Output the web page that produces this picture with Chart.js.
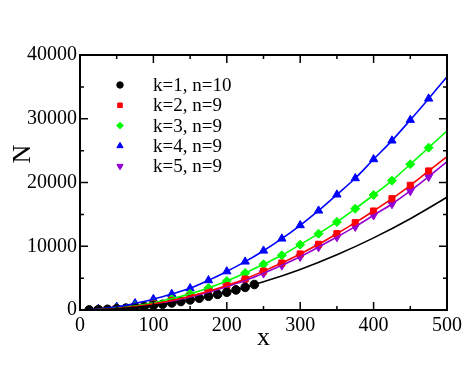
<!DOCTYPE html>
<html>
<head>
<meta charset="UTF-8">
<title>N vs x</title>
<script src="https://cdn.jsdelivr.net/npm/chart.js@4.4.0/dist/chart.umd.min.js"></script>
<style>
  html, body { margin: 0; padding: 0; background: #fff; }
  #wrap { width: 474px; height: 366px; position: relative; }
</style>
</head>
<body>
<div id="wrap"><canvas id="chart"></canvas></div>
<script>
// k=1, n=10 : markers every 12.5
const xK1 = [12.5, 25, 37.5, 50, 62.5, 75, 87.5, 100, 112.5, 125, 137.5, 150, 162.5, 175, 187.5, 200, 212.5, 225, 237.5];
const nK1 = [20, 60, 120, 200, 300, 420, 560, 720, 900, 1100, 1330, 1580, 1850, 2150, 2450, 2780, 3150, 3550, 4000];
// k=1 fitted curve
const xK1Fit = [0, 50, 100, 150, 200, 250, 300, 350, 400, 450, 500];
const nK1Fit = [0, 200, 720, 1580, 2780, 4420, 6360, 8660, 11310, 14320, 17680];

// k=2..5, n=9 : markers every 25
const xK = [25, 50, 75, 100, 125, 150, 175, 200, 225, 250, 275, 300, 325, 350, 375, 400, 425, 450, 475];
const nK2 = [60, 240, 540, 960, 1500, 2160, 2940, 3840, 4860, 6100, 7370, 8790, 10310, 11970, 13700, 15530, 17460, 19560, 21810];
const nK3 = [70, 280, 630, 1130, 1760, 2530, 3450, 4550, 5800, 7170, 8580, 10250, 11970, 13810, 15890, 18040, 20290, 22860, 25470];
const nK4 = [160, 500, 1050, 1700, 2500, 3400, 4650, 6050, 7580, 9300, 11190, 13290, 15580, 18100, 20660, 23640, 26570, 29810, 33150];
const nK5 = [55, 225, 510, 910, 1420, 2050, 2790, 3650, 4620, 5760, 7010, 8360, 9880, 11450, 13070, 14860, 16630, 18670, 20910];
// curve values at x = 500 for k=2..5
const nEnd = [24050, 28090, 36600, 23270];

const labels = ['k=1, n=10', 'k=2, n=9', 'k=3, n=9', 'k=4, n=9', 'k=5, n=9'];
const xTicks = [0, 100, 200, 300, 400, 500];
const yTicks = [0, 10000, 20000, 30000, 40000];

const colors = ['#000000', '#ff0000', '#00ff00', '#0000ff', '#9400d3'];
const styles = [
  { pointStyle: 'circle', radius: 4.3, rotation: 0 },
  { pointStyle: 'rect', radius: 4.3, rotation: 0 },
  { pointStyle: 'rectRot', radius: 4.5, rotation: 0 },
  { pointStyle: 'triangle', radius: 4.8, rotation: 0 },
  { pointStyle: 'triangle', radius: 4.8, rotation: 180 }
];

function pts(xs, ys) {
  return xs.map((x, i) => ({ x: x, y: ys[i] }));
}

const markerSets = [
  pts(xK1, nK1), pts(xK, nK2), pts(xK, nK3), pts(xK, nK4), pts(xK, nK5)
];
const curveSets = [
  pts(xK1Fit, nK1Fit),
  pts([0].concat(xK, [500]), [0].concat(nK2, [nEnd[0]])),
  pts([0].concat(xK, [500]), [0].concat(nK3, [nEnd[1]])),
  pts([0].concat(xK, [500]), [0].concat(nK4, [nEnd[2]])),
  pts([0].concat(xK, [500]), [0].concat(nK5, [nEnd[3]]))
];

const datasets = [];
curveSets.forEach((d, i) => {
  datasets.push({
    label: '', data: d, showLine: true, borderColor: colors[i], borderWidth: 1.6,
    pointRadius: 0, cubicInterpolationMode: 'monotone', isCurve: true
  });
});
markerSets.forEach((d, i) => {
  datasets.push({
    label: labels[i], data: d, showLine: false,
    backgroundColor: colors[i], borderColor: colors[i], borderWidth: 1,
    pointStyle: styles[i].pointStyle, pointRadius: styles[i].radius,
    pointRotation: styles[i].rotation
  });
});

const serif = "'Liberation Serif', 'DejaVu Serif', serif";

// frame box with inward ticks on all four sides, legend inside the plot, y title
const framePlugin = {
  id: 'frame',
  afterDraw(chart) {
    const ctx = chart.ctx;
    const a = chart.chartArea;
    const xs = chart.scales.x, ys = chart.scales.y;
    ctx.save();
    ctx.strokeStyle = '#000';
    ctx.lineWidth = 2;
    ctx.strokeRect(a.left, a.top, a.right - a.left, a.bottom - a.top);
    ctx.lineWidth = 1.5;
    const xv = xs.ticks.map(t => t.value);
    const yv = ys.ticks.map(t => t.value);
    ctx.beginPath();
    xv.forEach((v, i) => {
      const px = xs.getPixelForValue(v);
      ctx.moveTo(px, a.bottom); ctx.lineTo(px, a.bottom - 8);
      ctx.moveTo(px, a.top); ctx.lineTo(px, a.top + 8);
      if (i < xv.length - 1) {
        const pm = xs.getPixelForValue((v + xv[i + 1]) / 2);
        ctx.moveTo(pm, a.bottom); ctx.lineTo(pm, a.bottom - 4);
        ctx.moveTo(pm, a.top); ctx.lineTo(pm, a.top + 4);
      }
    });
    yv.forEach((v, i) => {
      const py = ys.getPixelForValue(v);
      ctx.moveTo(a.left, py); ctx.lineTo(a.left + 8, py);
      ctx.moveTo(a.right, py); ctx.lineTo(a.right - 8, py);
      if (i < yv.length - 1) {
        const pm = ys.getPixelForValue((v + yv[i + 1]) / 2);
        ctx.moveTo(a.left, pm); ctx.lineTo(a.left + 4, pm);
        ctx.moveTo(a.right, pm); ctx.lineTo(a.right - 4, pm);
      }
    });
    ctx.stroke();

    // legend
    const lx = a.left + 40, tx = a.left + 73, ly = a.top + 30, step = 20.3;
    ctx.font = '19px ' + serif;
    ctx.textBaseline = 'middle';
    chart.data.datasets.filter(d => !d.isCurve).forEach((d, i) => {
      const y = ly + i * step;
      ctx.fillStyle = d.backgroundColor;
      ctx.strokeStyle = d.borderColor;
      ctx.lineWidth = 1;
      if (Chart.helpers && Chart.helpers.drawPoint) {
        Chart.helpers.drawPoint(ctx, {
          pointStyle: d.pointStyle, radius: d.pointRadius * 0.75,
          rotation: d.pointRotation, borderWidth: 1
        }, lx, y);
      }
      ctx.fillStyle = '#000';
      ctx.fillText(d.label, tx, y + 1);
    });

    // y axis title, sits between the 30000 and 20000 labels
    ctx.translate(22, 154);
    ctx.rotate(-Math.PI / 2);
    ctx.font = '26px ' + serif;
    ctx.textAlign = 'center';
    ctx.textBaseline = 'middle';
    ctx.fillStyle = '#000';
    ctx.fillText('N', 0, 1);
    ctx.restore();
  }
};

new Chart(document.getElementById('chart'), {
  type: 'scatter',
  data: { datasets: datasets },
  options: {
    responsive: true,
    maintainAspectRatio: false,
    animation: false,
    layout: { padding: { top: 55, right: 27, left: 0, bottom: 0 } },
    plugins: { legend: { display: false }, tooltip: { enabled: false } },
    scales: {
      x: {
        type: 'linear', min: xTicks[0], max: xTicks[xTicks.length - 1],
        afterFit(s) { s.height = 56; },
        afterBuildTicks(s) { s.ticks = xTicks.map(v => ({ value: v })); },
        grid: { display: false, drawTicks: false },
        border: { display: false },
        ticks: { color: '#000', padding: 4, maxRotation: 0, font: { family: serif, size: 20 } },
        title: { display: true, text: 'x', color: '#000', padding: { top: 0, bottom: 12 }, font: { family: serif, size: 26 } }
      },
      y: {
        type: 'linear', min: yTicks[0], max: yTicks[yTicks.length - 1],
        afterFit(s) { s.width = 80; },
        afterBuildTicks(s) { s.ticks = yTicks.map(v => ({ value: v })); },
        grid: { display: false, drawTicks: false },
        border: { display: false },
        ticks: { color: '#000', padding: 3, font: { family: serif, size: 20 }, callback: v => String(v) }
      }
    }
  },
  plugins: [framePlugin]
});
</script>
</body>
</html>
